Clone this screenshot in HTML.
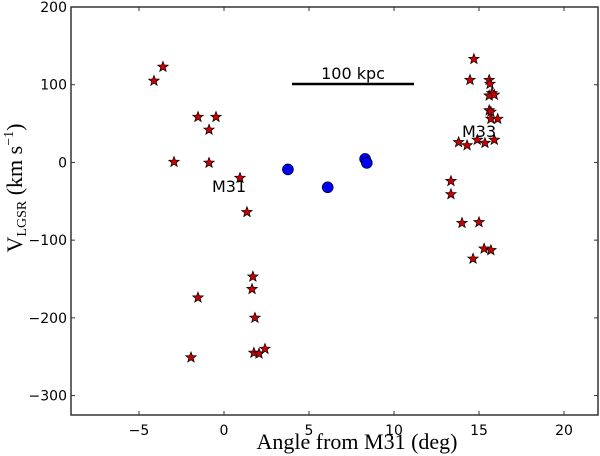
<!DOCTYPE html>
<html><head><meta charset="utf-8"><style>
html,body{margin:0;padding:0;background:#fff;}
svg{display:block;font-family:"DejaVu Sans","Liberation Sans",sans-serif;}
</style></head><body>
<svg id="chart" width="600" height="456" viewBox="0 0 600 456" xmlns="http://www.w3.org/2000/svg">
<rect x="0" y="0" width="600" height="456" fill="#fff"/>
<g id="marks"></g>
<g id="axes"></g>
</svg>
<script>
const xTicks = [-5, 0, 5, 10, 15, 20];
const yTicks = [200, 100, 0, -100, -200, -300];
const yTickLabels = ["200", "100", "0", "\u2212100", "\u2212200", "\u2212300"];
const xTickLabels = ["\u22125", "0", "5", "10", "15", "20"];
const starX = [-3.59,-4.12,-1.53,-0.47,-0.88,-2.94,-0.88,0.94,1.35,1.7,1.65,-1.53,1.82,-1.94,1.76,2.06,2.41,
  14.7,14.47,15.6,15.65,15.76,15.6,15.9,15.6,15.7,15.7,16.1,13.8,14.3,14.9,15.35,15.9,
  13.35,13.35,14.0,15.0,15.3,15.7,14.65];
const starY = [123,105,58.5,58.5,42,0.6,-0.6,-20,-64,-147,-163,-174,-200,-251,-245,-246,-240,
  133,106,106,101,89,86,87,67,65,56,56,26,22,29,25,29,
  -24,-41,-78,-77,-111,-113,-124];
const circX = [3.76, 6.1, 8.3, 8.4];
const circY = [-9, -32, 4.5, -0.6];
const X0=-9, X1=22, Y0=-325, Y1=200;
const L=71, R=598, T=7, B=415;
const sx = v => L + (v - X0) / (X1 - X0) * (R - L);
const sy = v => B - (v - Y0) / (Y1 - Y0) * (B - T);
const NS="http://www.w3.org/2000/svg";
function mk(tag, attrs, parent){const e=document.createElementNS(NS,tag);for(const k in attrs)e.setAttribute(k,attrs[k]);parent.appendChild(e);return e;}
const marks=document.getElementById('marks');
const axes=document.getElementById('axes');
function starPts(cx,cy,r){let p=[];for(let i=0;i<10;i++){const a=-Math.PI/2+i*Math.PI/5;const rr=i%2?r*0.42:r;p.push((cx+rr*Math.cos(a)).toFixed(2)+','+(cy+rr*Math.sin(a)).toFixed(2));}return p.join(' ');}
for(let i=0;i<starX.length;i++){
  const s=mk('polygon',{points:starPts(sx(starX[i]),sy(starY[i]),5.5),fill:'#cc0000',stroke:'#000','stroke-width':0.7},marks);
  
  
}
for(let i=0;i<circX.length;i++){
  const c=mk('circle',{cx:sx(circX[i]),cy:sy(circY[i]),r:5.5,fill:'#0000ee',stroke:'#000','stroke-width':0.6},marks);
  
  
}
const bar=mk('line',{x1:292,y1:84,x2:414,y2:84,stroke:'#000','stroke-width':2.5},marks);


const bt=mk('text',{x:353,y:79,'text-anchor':'middle','font-size':16},marks);bt.textContent='100 kpc';


const m31=mk('text',{x:212,y:192,'font-size':16},marks);m31.textContent='M31';


const m33=mk('text',{x:462,y:137,'font-size':16},marks);m33.textContent='M33';


const fr=mk('rect',{x:L,y:T,width:R-L,height:B-T,fill:'none',stroke:'#333','stroke-width':1.5},axes);


for(let i=0;i<xTicks.length;i++){
  const x=sx(xTicks[i]);
  mk('line',{x1:x,y1:B,x2:x,y2:B-4,stroke:'#333'},axes);
  mk('line',{x1:x,y1:T,x2:x,y2:T+4,stroke:'#333'},axes);
  const t=mk('text',{x:x,y:B+20,'text-anchor':'middle','font-size':14},axes);t.textContent=xTickLabels[i];
  
  
}
for(let i=0;i<yTicks.length;i++){
  const y=sy(yTicks[i]);
  mk('line',{x1:L,y1:y,x2:L+4,y2:y,stroke:'#333'},axes);
  mk('line',{x1:R,y1:y,x2:R-4,y2:y,stroke:'#333'},axes);
  const t=mk('text',{x:L-4,y:y+5,'text-anchor':'end','font-size':14},axes);t.textContent=yTickLabels[i];
  
  
}
</script>
<svg width="600" height="456" style="position:absolute;left:0;top:0" xmlns="http://www.w3.org/2000/svg">
<text x="357" y="449" text-anchor="middle" font-family="Liberation Serif, serif" font-size="22">Angle from M31 (deg)</text>
<text transform="translate(22,188) rotate(-90)" text-anchor="middle" font-family="Liberation Serif, serif" font-size="22">V<tspan font-size="14" dy="4">LGSR</tspan><tspan dy="-4">  (km s</tspan><tspan font-size="14" dy="-9">−1</tspan><tspan dy="9">)</tspan></text>
</svg>
</body></html>
